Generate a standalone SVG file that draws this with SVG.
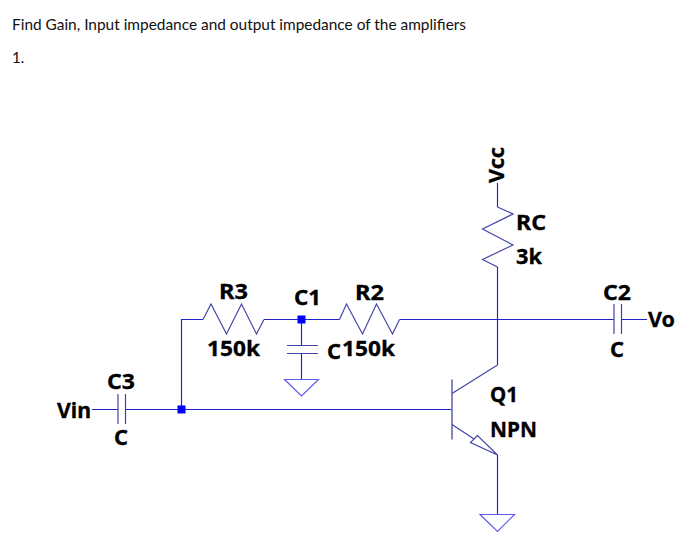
<svg xmlns="http://www.w3.org/2000/svg" width="695" height="557" viewBox="0 0 695 557">
<style>
.w{fill:none;stroke:#2222d0;stroke-width:1.15}
.s{fill:none;stroke:#4444a8;stroke-width:1.2;stroke-linejoin:miter}
.g{fill:none;stroke:#5c5ce8;stroke-width:1.2}
.b{fill:none;stroke:#7a7ab8;stroke-width:1.8}
.j{fill:#0000ff}
.l{font-family:"Noto Sans","Liberation Sans",sans-serif;font-size:22px;font-weight:700;fill:#000;stroke:#000;stroke-width:.3}
.t{font-family:"Lato","Liberation Sans",sans-serif;font-size:15px;fill:#111}
</style>
<rect width="695" height="557" fill="#fff"/>
<g id="heading">
<text class="t" x="12" y="30" textLength="454" lengthAdjust="spacingAndGlyphs">Find Gain, Input impedance and output impedance of the amplifiers</text>
<text class="t" x="12" y="63">1.</text>
</g>
<g id="connectors">
<path class="w" d="M92 409.500H118M125.500 409.500H452"/>
<path class="w" d="M181.500 409.500V319.500H203M264 319.500H339.500M399.500 319.500H614M621.500 319.500H647"/>
<path class="w" d="M301.500 319.500V345M301.500 353.500V379"/>
<path class="w" d="M497.500 183V207M497.500 267V365M497.500 455V514"/>
</g>
<g id="R3"><path class="s" d="M203 319.500L211 304L226.500 334L241.500 304L256.500 334L264 319.500"/>
<text class="l" x="219" y="299" textLength="29" lengthAdjust="spacingAndGlyphs">R3</text>
<text class="l" x="207" y="356" textLength="53" lengthAdjust="spacingAndGlyphs">150k</text></g>
<g id="R2"><path class="s" d="M339.500 319.500L346.500 304L362.500 334L376.500 304L392.500 334L399.500 319.500"/>
<text class="l" x="355" y="300" textLength="29" lengthAdjust="spacingAndGlyphs">R2</text>
<text class="l" x="342" y="356" textLength="53" lengthAdjust="spacingAndGlyphs">150k</text></g>
<g id="C1"><path class="s" d="M287 345.500H318M287 353.500H318"/>
<text class="l" x="294" y="305" textLength="27" lengthAdjust="spacingAndGlyphs">C1</text>
<text class="l" x="327" y="359" textLength="14" lengthAdjust="spacingAndGlyphs">C</text></g>
<g id="C3"><path class="s" d="M118 394V424M125.500 394V424"/>
<text class="l" x="107" y="389" textLength="28" lengthAdjust="spacingAndGlyphs">C3</text>
<text class="l" x="114" y="445" textLength="14" lengthAdjust="spacingAndGlyphs">C</text></g>
<g id="C2"><path class="s" d="M614 304V334M621.500 304V334"/>
<text class="l" x="603" y="300" textLength="28" lengthAdjust="spacingAndGlyphs">C2</text>
<text class="l" x="610" y="357" textLength="14" lengthAdjust="spacingAndGlyphs">C</text></g>
<g id="RC"><path class="s" d="M497.500 207L513 214L482.500 229L513 245L482.500 259.500L497.500 267"/>
<text class="l" x="516" y="230" textLength="30" lengthAdjust="spacingAndGlyphs">RC</text>
<text class="l" x="516" y="264" textLength="26" lengthAdjust="spacingAndGlyphs">3k</text></g>
<g id="Q1">
<path class="b" d="M452 379.500V439.500"/>
<path class="s" d="M497.500 365L452 393.500M452 424.500L474 439"/>
<path class="s" stroke-linejoin="round" d="M477.500 435.500L470.500 442.500L497.500 455Z"/>
<text class="l" x="490" y="402" textLength="28" lengthAdjust="spacingAndGlyphs">Q1</text>
<text class="l" x="490" y="437" textLength="47" lengthAdjust="spacingAndGlyphs">NPN</text></g>
<g id="Vin"><text class="l" x="57" y="418" textLength="34" lengthAdjust="spacingAndGlyphs">Vin</text></g>
<g id="Vo"><text class="l" x="648" y="327" textLength="27" lengthAdjust="spacingAndGlyphs">Vo</text></g>
<g id="Vcc"><text class="l" transform="translate(504 183) rotate(-90)" x="0" y="0" textLength="36" lengthAdjust="spacingAndGlyphs">Vcc</text></g>
<g id="gnd1"><path class="g" d="M284.500 379.500H318.500L301.500 396Z"/></g>
<g id="gnd2"><path class="g" d="M480 514.500H514.500L497.500 531.500Z"/></g>
<g id="junction1"><rect class="j" x="177.500" y="405.500" width="8" height="8"/></g>
<g id="junction2"><rect class="j" x="297.500" y="315.500" width="8" height="8"/></g>
</svg>
